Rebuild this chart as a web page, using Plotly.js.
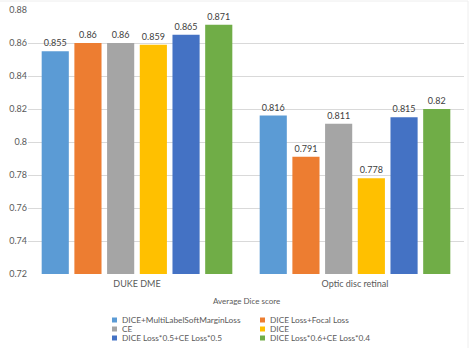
<!DOCTYPE html>
<html><head><meta charset="utf-8">
<script src="https://cdn.plot.ly/plotly-3.0.1.min.js"></script>
<style>html,body{margin:0;padding:0;background:#fff}#c{width:474px;height:348px}</style>
</head><body><div id="c"></div>
<script>
const categories = ["DUKE DME", "Optic disc retinal"];
const seriesNames = ["DICE+MultiLabelSoftMarginLoss", "DICE Loss+Focal Loss", "CE", "DICE", "DICE Loss*0.5+CE Loss*0.5", "DICE Loss*0.6+CE Loss*0.4"];
const values = [
  [0.855, 0.816],
  [0.86, 0.791],
  [0.86, 0.811],
  [0.859, 0.778],
  [0.865, 0.815],
  [0.871, 0.82]
];
const colors = ["#5B9BD5", "#ED7D31", "#A5A5A5", "#FFC000", "#4472C4", "#70AD47"];
const yTicks = [0.72, 0.74, 0.76, 0.78, 0.8, 0.82, 0.84, 0.86, 0.88];
const yTickText = ["0.72", "0.74", "0.76", "0.78", "0.8", "0.82", "0.84", "0.86", "0.88"];

const FONT = "Lato, sans-serif";
const traces = seriesNames.map((n, i) => ({
  type: "bar", name: n, x: categories, y: values[i],
  marker: {color: colors[i]},
  text: values[i].map(v => String(v)), textposition: "outside",
  textfont: {size: 9, color: "#404040", family: FONT},
  cliponaxis: false, showlegend: false
}));

// Plot area in pixels: left 28, right 464, top 10, bottom 274
const L = 28, R = 464, T = 10, B = 274;
const px = x => (x - L) / (R - L);
const py = y => (B - y) / (B - T);
const legendCols = [112, 260];
const legendRows = [320, 329, 338];
const shapes = [];
const annotations = [];
seriesNames.forEach((n, i) => {
  const cx = legendCols[i % 2], cy = legendRows[Math.floor(i / 2)];
  shapes.push({type: "rect", xref: "paper", yref: "paper",
    x0: px(cx), x1: px(cx + 5), y0: py(cy - 2.5), y1: py(cy + 2.5),
    fillcolor: colors[i], line: {width: 0}});
  annotations.push({xref: "paper", yref: "paper", x: px(cx + 7.5), y: py(cy),
    xanchor: "left", yanchor: "middle", text: n, showarrow: false,
    font: {size: 8.3, color: "#595959", family: FONT}});
});
annotations.push({xref: "paper", yref: "paper", x: 0.5, y: py(301), xanchor: "center", yanchor: "middle",
  text: "Average Dice score", showarrow: false, font: {size: 8, color: "#595959", family: FONT}});
// faint chart border (top and right)
shapes.push({type: "line", xref: "paper", yref: "paper", x0: px(0), x1: px(468), y0: py(1), y1: py(1), line: {color: "#EEEEEE", width: 1}});
shapes.push({type: "line", xref: "paper", yref: "paper", x0: px(468), x1: px(468), y0: py(1), y1: py(348), line: {color: "#EEEEEE", width: 1}});

const layout = {
  width: 474, height: 348,
  margin: {l: L, r: 474 - R, t: T, b: 348 - B},
  font: {family: FONT, color: "#595959", size: 9},
  barmode: "group", bargap: 0.1, bargroupgap: 0.17,
  showlegend: false,
  xaxis: {tickfont: {size: 9, color: "#595959"}, showline: false, ticks: "", automargin: false, ticklabelstandoff: 3},
  yaxis: {range: [0.72, 0.88], tickvals: yTicks, ticktext: yTickText, gridcolor: "#D9D9D9",
    zeroline: false, tickfont: {size: 9, color: "#595959"}, ticks: "", automargin: false},
  shapes: shapes, annotations: annotations,
  plot_bgcolor: "#fff", paper_bgcolor: "#fff"
};
Plotly.newPlot("c", traces, layout, {displayModeBar: false, staticPlot: true});
</script></body></html>
